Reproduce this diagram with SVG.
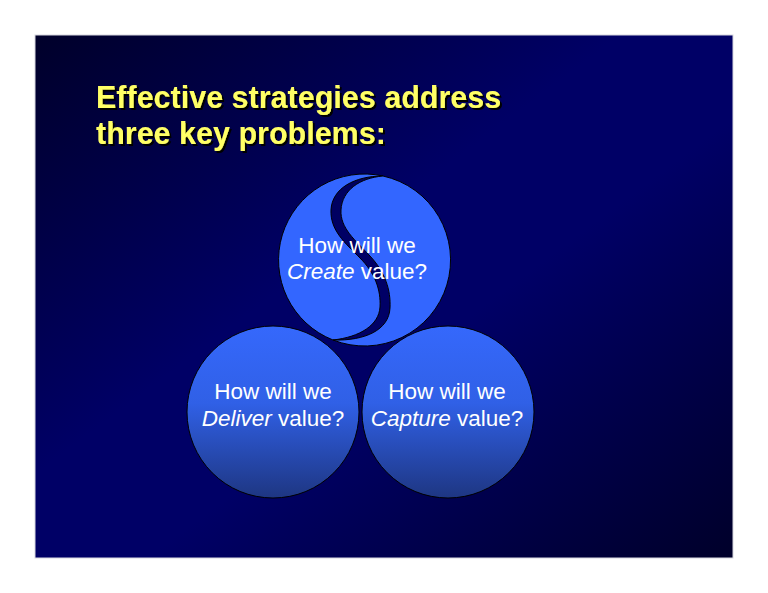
<svg xmlns="http://www.w3.org/2000/svg" width="768" height="593" viewBox="0 0 768 593">
  <defs>
    <linearGradient id="bg" x1="0" y1="0" x2="1" y2="1">
      <stop offset="0" stop-color="#00002a"/>
      <stop offset="0.42" stop-color="#000066"/>
      <stop offset="0.58" stop-color="#000066"/>
      <stop offset="1" stop-color="#00002a"/>
    </linearGradient>
    <linearGradient id="ball" x1="0" y1="0" x2="0" y2="1">
      <stop offset="0" stop-color="#3568fc"/>
      <stop offset="0.45" stop-color="#3060e6"/>
      <stop offset="1" stop-color="#1e3682"/>
    </linearGradient>
    <filter id="shadow" x="-5%" y="-20%" width="110%" height="140%">
      <feOffset in="SourceAlpha" dx="2" dy="2" result="off"/>
      <feFlood flood-color="#000000"/>
      <feComposite in2="off" operator="in" result="sh"/>
      <feMerge>
        <feMergeNode in="sh"/>
        <feMergeNode in="SourceGraphic"/>
      </feMerge>
    </filter>
    <style>
      .title { font-family: "Liberation Sans", Arial, sans-serif; font-weight: bold; font-size: 30.5px; fill: #ffff66; }
      .lbl { font-family: "Liberation Sans", Arial, sans-serif; font-size: 22.5px; fill: #ffffff; text-anchor: middle; }
      .piece { fill: #3366ff; stroke: #000000; stroke-width: 1; }
      .ball { fill: url(#ball); stroke: #000000; stroke-width: 1; }
    </style>
  </defs>

  <rect x="0" y="0" width="768" height="593" fill="#ffffff"/>
  <rect id="slide" x="35" y="35" width="698" height="523" fill="url(#bg)" stroke="#d8d8e0" stroke-width="1"/>

  <g id="title" filter="url(#shadow)">
    <text class="title" x="96" y="108">Effective strategies address</text>
    <text class="title" x="96" y="144">three key problems:</text>
  </g>

  <g id="connectors"></g>

  <g id="node-create">
    <path class="piece" d="M383,176 A86,86 0 0 0 333,340 C360,337 379,325 380,307 C381,290 375,273 360,258 C345,243 330,230 331,210 C332,188 355,176 383,176 Z"/>
    <path class="piece" d="M383,176 A86,86 0 1 1 333,340 C365,341 389,330 390,308 C391,290 385,272 370,256 C355,240 340,228 341,210 C342,190 360,178 383,176 Z"/>
    <text class="lbl" x="357" y="252.5">How will we</text>
    <text class="lbl" x="357" y="279"><tspan font-style="italic">Create</tspan> value?</text>
  </g>

  <g id="node-deliver">
    <circle class="ball" cx="273" cy="412" r="86"/>
    <text class="lbl" x="273" y="398.5">How will we</text>
    <text class="lbl" x="273" y="426"><tspan font-style="italic">Deliver</tspan> value?</text>
  </g>

  <g id="node-capture">
    <circle class="ball" cx="448" cy="412" r="86"/>
    <text class="lbl" x="447" y="398.5">How will we</text>
    <text class="lbl" x="447" y="426"><tspan font-style="italic">Capture</tspan> value?</text>
  </g>
</svg>
